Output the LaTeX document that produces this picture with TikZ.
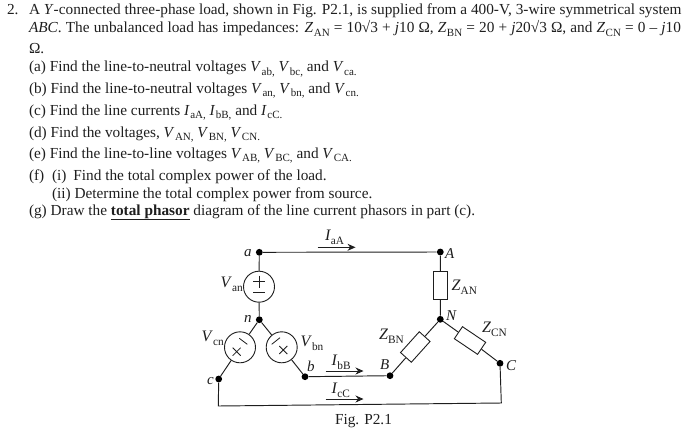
\documentclass[tikz,border=0pt]{standalone}
\usepackage{fontspec}
\setmainfont{Liberation Serif}
\usepackage{xcolor}
\definecolor{ink}{HTML}{1E1E1E}
\newcommand{\lowsub}[1]{\kern0.5pt\relax\raisebox{-3.4pt}{\fontsize{11}{12}\selectfont #1}}
\newcommand{\qty}[2]{\textit{#1}\lowsub{#2}}
\newcommand{\bigqty}[2]{{\fontsize{16}{18}\selectfont\textit{#1}}\raisebox{-4pt}{\fontsize{11.3}{13}\selectfont #2}}
\tikzset{
  txt/.style={anchor=base west,inner sep=0pt,outer sep=0pt,font=\fontsize{15.3}{17}\selectfont,text=ink},
  lbl/.style={anchor=base west,inner sep=0pt,outer sep=0pt,font=\fontsize{15}{17}\selectfont,text=ink},
  wire/.style={draw=ink,line width=0.95pt},
  junction/.style={circle,fill=black,inner sep=0pt,minimum size=6.8pt},
  source/.style={circle,draw=ink,line width=0.9pt,fill=white,inner sep=0pt,minimum size=31pt},
  imp/.style={rectangle,draw=ink,line width=0.9pt,fill=white,inner sep=0pt,minimum width=28pt,minimum height=14.5pt},
  curr/.style={-{Stealth[length=8pt,width=7pt]},draw=ink,line width=0.9pt},
  sign/.style={draw=ink,line width=0.8pt},
}
\usetikzlibrary{arrows.meta}
\begin{document}
\begin{tikzpicture}[x=1pt,y=-1pt]
\useasboundingbox (0,0) rectangle (700,433);
% problem text
\node[txt] (num) at (7,15) {2.};
\node[txt] (l1) at (29,15) {\hbox to 652.5pt{A \textit{Y}-connected three-phase load, shown in Fig. P2.1, is supplied from a 400-V, 3-wire symmetrical system}};
\node[txt] (l2) at (29,33) {\hbox to 652pt{\textit{ABC}. The unbalanced load has impedances: \qty{Z}{AN} = 10√3 + \textit{j}10 Ω, \qty{Z}{BN} = 20 + \textit{j}20√3 Ω, and \qty{Z}{CN} = 0 – \textit{j}10}};
\node[txt] (l3) at (29,54) {Ω.};
\node[txt] (la) at (29,72) {(a) Find the line-to-neutral voltages \qty{V}{ab,} \qty{V}{bc,} and \qty{V}{ca.}};
\node[txt] (lb) at (29,93) {(b) Find the line-to-neutral voltages \qty{V}{an,} \qty{V}{bn,} and \qty{V}{cn.}};
\node[txt] (lc) at (29,115) {(c) Find the line currents \qty{I}{aA,} \qty{I}{bB,} and \qty{I}{cC.}};
\node[txt] (ld) at (29,137) {(d) Find the voltages, \qty{V}{AN,} \qty{V}{BN,} \qty{V}{CN.}};
\node[txt] (le) at (29,158) {(e) Find the line-to-line voltages \qty{V}{AB,} \qty{V}{BC,} and \qty{V}{CA.}};
\node[txt] (lf) at (29,180) {(f)};
\node[txt] (lfi) at (52,180) {(i)\hspace{7pt}Find the total complex power of the load.};
\node[txt] (lfii) at (52,198) {(ii) Determine the total complex power from source.};
\node[txt] (lg) at (29,215) {(g) Draw the \underline{\textbf{total phasor}} diagram of the line current phasors in part (c).};
% junctions
\node[junction] (a) at (259.3,252.3) {};
\node[junction] (n) at (259.3,319.7) {};
\node[junction] (c) at (218.7,379) {};
\node[junction] (b) at (305,376.7) {};
\node[junction] (A) at (440.3,252) {};
\node[junction] (N) at (440.3,319.3) {};
\node[junction] (B) at (390,375.7) {};
\node[junction] (C) at (500,363.3) {};
\coordinate (cd) at (218.3,406);
\coordinate (Cd) at (501.3,403);
% sources and impedances
\node[source] (van) at (259,286.7) {};
\node[source] (vcn) at (240,347.3) {};
\node[source] (vbn) at (281.7,347.3) {};
\node[imp,rotate=90] (zan) at (440.5,285.2) {};
\node[imp,rotate=48] (zbn) at (415.3,347) {};
\node[imp,rotate=-34] (zcn) at (470,340.5) {};
% wires
\draw[wire] (a) -- (A);
\draw[wire] (a) -- (van);
\draw[wire] (van) -- (n);
\draw[wire] (n) -- (vcn);
\draw[wire] (vcn) -- (c);
\draw[wire] (n) -- (vbn);
\draw[wire] (vbn) -- (b);
\draw[wire] (b) -- (B);
\draw[wire] (c) -- (cd) -- (Cd) -- (C);
\draw[wire] (A) -- (zan);
\draw[wire] (zan) -- (N);
\draw[wire] (N) -- (zbn);
\draw[wire] (zbn) -- (B);
\draw[wire] (N) -- (zcn);
\draw[wire] (zcn) -- (C);
% source signs
\draw[sign] (253,281.5) -- (265,281.5) (259,275.5) -- (259,287.5);
\draw[draw=ink,line width=1.3pt] (253,292.7) -- (265,292.7);
\draw[sign] (232.7,347.7) -- (240.7,355.7) (240.7,347.7) -- (232.7,355.7);
\draw[sign] (239.3,338.3) -- (247.3,344.3);
\draw[sign] (279.3,346) -- (287.3,354) (287.3,346) -- (279.3,354);
\draw[sign] (271.7,344.3) -- (280,337.7);
% currents
\coordinate (ia1) at (317.7,247.3); \coordinate (ia2) at (355.5,247.3);
\coordinate (ib1) at (325.7,371);   \coordinate (ib2) at (363.5,371);
\coordinate (ic1) at (325.7,399);   \coordinate (ic2) at (363.5,399);
\draw[curr] (ia1) -- (ia2);
\draw[curr] (ib1) -- (ib2);
\draw[curr] (ic1) -- (ic2);
% labels
\node[lbl] (la1) at (325,240.7) {\bigqty{I}{aA}};
\node[lbl] (lb1) at (331.5,365.7) {\bigqty{I}{bB}};
\node[lbl] (lc1) at (331.5,393.3) {\bigqty{I}{cC}};
\node[lbl] (tv1) at (220.7,287.7) {\bigqty{V}{an}};
\node[lbl] (tv2) at (201.7,341.7) {\bigqty{V}{cn}};
\node[lbl] (tv3) at (300.7,346.7) {\bigqty{V}{bn}};
\node[lbl] (tz1) at (451.7,290) {\bigqty{Z}{AN}};
\node[lbl] (tz2) at (379,339) {\bigqty{Z}{BN}};
\node[lbl] (tz3) at (482,332) {\bigqty{Z}{CN}};
\node[lbl] (ta) at (244,256) {\textit{a}};
\node[lbl] (tn) at (244,322) {\textit{n}};
\node[lbl] (tc) at (207,384) {\textit{c}};
\node[lbl] (tb) at (307,371) {\textit{b}};
\node[lbl] (tA) at (445,258) {\textit{A}};
\node[lbl] (tN) at (446,320) {\textit{N}};
\node[lbl] (tB) at (380,369) {\textit{B}};
\node[lbl] (tC) at (506,370) {\textit{C}};
\node[txt] (fig) at (335,424) {Fig. P2.1};
\end{tikzpicture}
\end{document}
